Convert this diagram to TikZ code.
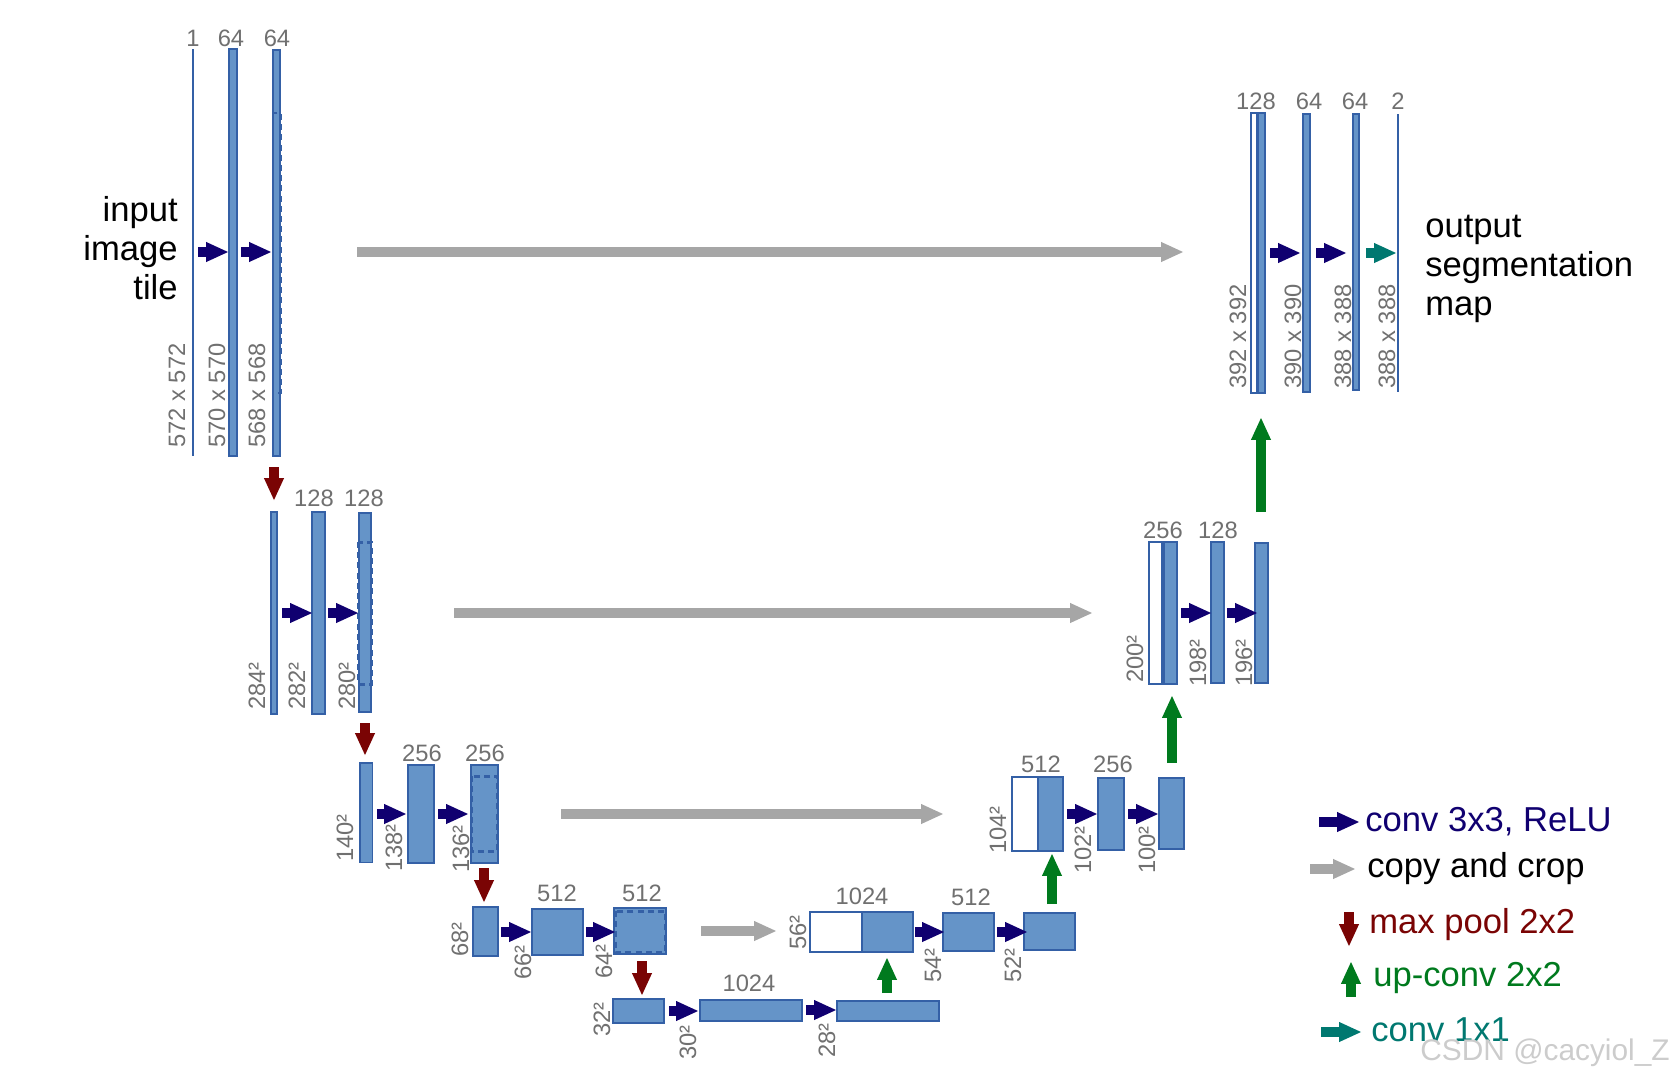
\documentclass[tikz,border=0pt]{standalone}
\usepackage{fontspec}
\setmainfont{Liberation Sans}
\usetikzlibrary{arrows.meta}

\definecolor{barazul}{RGB}{101,148,200}
\definecolor{borde}{RGB}{52,96,166}
\definecolor{azulconv}{RGB}{16,0,112}
\definecolor{grisc}{RGB}{166,166,166}
\definecolor{rojop}{RGB}{122,4,4}
\definecolor{verdeu}{RGB}{0,122,30}
\definecolor{tealc}{RGB}{0,120,112}
\definecolor{grisnum}{RGB}{112,112,112}

\tikzset{
  barra/.style={draw=borde, fill=barazul, line width=0.65pt},
  vacia/.style={draw=borde, fill=white, line width=0.65pt},
  recorte/.style={draw=borde, line width=1.7pt, dash pattern=on 3.4pt off 2.4pt},
  flecha/.style={line width=5.6pt, -{Triangle[length=12.5pt,width=11.5pt,line width=0pt]}},
  conv/.style={flecha, draw=azulconv},
  copia/.style={flecha, draw=grisc},
  pool/.style={flecha, draw=rojop},
  subir/.style={flecha, draw=verdeu},
  unoxuno/.style={flecha, draw=tealc},
  num/.style={text=grisnum, font=\fontsize{13.5}{16}\selectfont, inner sep=0pt},
  dim/.style={num, rotate=90, anchor=west},
  texto/.style={font=\fontsize{19.7}{22.4}\selectfont, inner sep=0pt}
}

\begin{document}
\begin{tikzpicture}[x=0.02cm,y=-0.02cm]

	\useasboundingbox (0,0) rectangle (1674,1082);

	% Nivel 1 (contraccion)
	\draw[borde, line width=1pt] (193,49) -- (193,456);
	\draw[barra] (229,49) rectangle (237,456);
	\draw[barra] (273,50) rectangle (280,456);
	\draw[recorte] (273,113) rectangle (280.5,393);
	\draw[conv] (198,252) -- (228,252);
	\draw[conv] (241,252) -- (271,252);
	\node[num] (c1) at (193,38) {1};
	\node[num] (c64a) at (231,38) {64};
	\node[num] (c64b) at (277,38) {64};
	\node[dim] (d572) at (177,448) {572 x 572};
	\node[dim] (d570) at (217,448) {570 x 570};
	\node[dim] (d568) at (257,448) {568 x 568};
	\node[texto, align=right, anchor=east] (entrada) at (178,248) {input\\image\\tile};
	\draw[pool] (274,467) -- (274,500);

	% Nivel 2
	\draw[barra] (271,512) rectangle (277,714);
	\draw[barra] (312,512) rectangle (325,714);
	\draw[barra] (359,513) rectangle (371,712);
	\draw[recorte] (358.5,542) rectangle (371.5,684);
	\draw[conv] (282,613) -- (312,613);
	\draw[conv] (328,613) -- (358,613);
	\node[num] (c128a) at (314,498) {128};
	\node[num] (c128b) at (364,498) {128};
	\node[dim] (d284) at (257,710) {284²};
	\node[dim] (d282) at (297,710) {282²};
	\node[dim] (d280) at (347,710) {280²};
	\draw[pool] (365,723) -- (365,755);

	% Nivel 3
	\draw[barra] (360,763) rectangle (372.5,862.5);
	\draw[barra] (408,765) rectangle (434,863);
	\draw[barra] (471,765) rectangle (498,863);
	\draw[recorte] (471.5,776) rectangle (497.5,851);
	\draw[conv] (377,814) -- (406,814);
	\draw[conv] (438,814) -- (468,814);
	\node[num] (c256a) at (422,753) {256};
	\node[num] (c256b) at (485,753) {256};
	\node[dim] (d140) at (345,862) {140²};
	\node[dim] (d138) at (394,872) {138²};
	\node[dim] (d136) at (461,873) {136²};
	\draw[pool] (484,868) -- (484,902);

	% Nivel 4
	\draw[barra] (473,907) rectangle (498,956);
	\draw[barra] (532,909) rectangle (583,955);
	\draw[barra] (614,908) rectangle (666,954);
	\draw[recorte] (615.5,911) rectangle (665,952);
	\draw[conv] (501,932) -- (531,932);
	\draw[conv] (586,932) -- (615,932);
	\node[num] (c512a) at (557,893) {512};
	\node[num] (c512b) at (642,893) {512};
	\node[dim] (d68) at (460,957) {68²};
	\node[dim] (d66) at (523,980) {66²};
	\node[dim] (d64) at (604,979) {64²};
	\draw[pool] (642,961) -- (642,995);

	% Nivel 5 (fondo)
	\draw[barra] (613,999) rectangle (664,1023);
	\draw[barra] (700,1000) rectangle (802,1021);
	\draw[barra] (837,1001) rectangle (939,1021);
	\draw[conv] (669,1011) -- (698,1011);
	\draw[conv] (806,1010) -- (836,1010);
	\node[num] (c1024a) at (749,983) {1024};
	\node[dim] (d32) at (602,1037) {32²};
	\node[dim] (d30) at (688,1060) {30²};
	\node[dim] (d28) at (827,1058) {28²};
	\draw[subir] (887,993) -- (887,958);

	% Nivel 4 (expansion)
	\draw[vacia] (810,912) rectangle (862,952);
	\draw[barra] (862,912) rectangle (913,952);
	\draw[barra] (943,913) rectangle (994,951);
	\draw[barra] (1024,913) rectangle (1075,950);
	\draw[conv] (915,932) -- (944,932);
	\draw[conv] (997,932) -- (1027,932);
	\node[num] (c1024b) at (862,896) {1024};
	\node[num] (c512c) at (971,897) {512};
	\node[dim] (d56) at (798,950) {56²};
	\node[dim] (d54) at (933,983) {54²};
	\node[dim] (d52) at (1013,983) {52²};
	\draw[subir] (1052,904) -- (1052,854);

	% Nivel 3 (expansion)
	\draw[vacia] (1012,777) rectangle (1038,851);
	\draw[barra] (1038,777) rectangle (1063,851);
	\draw[barra] (1098,778) rectangle (1124,850);
	\draw[barra] (1159,778) rectangle (1184,849);
	\draw[conv] (1067,814) -- (1097,814);
	\draw[conv] (1128,814) -- (1158,814);
	\node[num] (c512d) at (1041,764) {512};
	\node[num] (c256c) at (1113,764) {256};
	\node[dim] (d104) at (998,854) {104²};
	\node[dim] (d102) at (1083,874) {102²};
	\node[dim] (d100) at (1147,874) {100²};
	\draw[subir] (1172,763) -- (1172,696);

	% Nivel 2 (expansion)
	\draw[vacia] (1149,542) rectangle (1162,684);
	\draw[barra] (1164,542) rectangle (1177,684);
	\draw[barra] (1211,542) rectangle (1224,683);
	\draw[barra] (1255,543) rectangle (1268,683);
	\draw[conv] (1181,613) -- (1211,613);
	\draw[conv] (1227,613) -- (1257,613);
	\node[num] (c256d) at (1163,530) {256};
	\node[num] (c128c) at (1218,530) {128};
	\node[dim] (d200) at (1135,683) {200²};
	\node[dim] (d198) at (1198,687) {198²};
	\node[dim] (d196) at (1244,687) {196²};
	\draw[subir] (1261,512) -- (1261,418);

	% Nivel 1 (salida)
	\draw[vacia] (1251,113) rectangle (1257,393);
	\draw[barra] (1258,113) rectangle (1265,393);
	\draw[barra] (1303,114) rectangle (1310,392);
	\draw[barra] (1353,114) rectangle (1359,390);
	\draw[borde, line width=1pt] (1398,114) -- (1398,392);
	\draw[conv] (1270,253) -- (1300,253);
	\draw[conv] (1316,253) -- (1346,253);
	\draw[unoxuno] (1366,253) -- (1396,253);
	\node[num] (c128d) at (1256,101) {128};
	\node[num] (c64c) at (1309,101) {64};
	\node[num] (c64d) at (1355,101) {64};
	\node[num] (c2) at (1398,101) {2};
	\node[dim] (d392) at (1238,389) {392 x 392};
	\node[dim] (d390) at (1293,389) {390 x 390};
	\node[dim] (d388a) at (1343,389) {388 x 388};
	\node[dim] (d388b) at (1387,389) {388 x 388};
	\node[texto, align=left, anchor=west] (salida) at (1425,269) {output\\segmentation\\map};

	% Copiar y recortar
	\draw[copia] (357,252) -- (1183,252);
	\draw[copia] (454,613) -- (1092,613);
	\draw[copia] (561,814) -- (943,814);
	\draw[copia] (701,931) -- (776,931);

	% Leyenda
	\draw[conv] (1319,822) -- (1359,822);
	\node[texto, anchor=west, text=azulconv] (l1) at (1365,822) {conv 3x3, ReLU};
	\draw[copia] (1310,869) -- (1355,869);
	\node[texto, anchor=west] (l2) at (1367,869) {copy and crop};
	\draw[pool] (1349,912) -- (1349,946);
	\node[texto, anchor=west, text=rojop] (l3) at (1369,925) {max pool 2x2};
	\draw[subir] (1351,997) -- (1351,962);
	\node[texto, anchor=west, text=verdeu] (l4) at (1373,978) {up-conv 2x2};
	\draw[unoxuno] (1321,1032) -- (1361,1032);
	\node[texto, anchor=west, text=tealc] (l5) at (1371,1030) {conv 1x1};
	\node[anchor=west, inner sep=0pt, text=gray!40, font=\fontsize{17}{20}\selectfont] (marca) at (1420,1053) {CSDN @cacyiol\_Z};

\end{tikzpicture}
\end{document}
